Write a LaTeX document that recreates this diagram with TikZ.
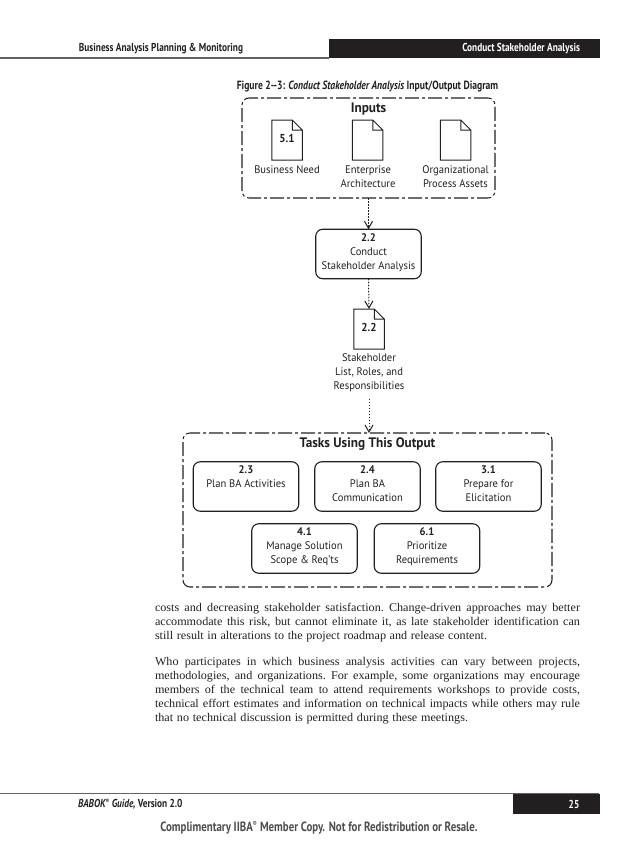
\documentclass[tikz,border=0pt]{standalone}
\usepackage{fontspec}
\usetikzlibrary{arrows.meta,calc}
\setmainfont[FakeStretch=0.96]{PT Sans}
\newfontfamily\hdr[FakeStretch=0.81]{PT Sans}
\newfontfamily\bodyf[FakeStretch=1.03]{Liberation Serif}
\definecolor{ink}{HTML}{231F20}
\newcommand{\fs}[2]{\fontsize{#1}{#2}\selectfont}
\newcommand{\docfold}[1]{\draw[docline] (#1.north west) -- ([xshift=-10pt]#1.north east) -- ([yshift=-10pt]#1.north east) -- (#1.south east) -- (#1.south west) -- cycle
  ([xshift=-10pt]#1.north east) -- ([xshift=-10pt,yshift=-10pt]#1.north east) -- ([yshift=-10pt]#1.north east);}
\tikzset{
  x=1pt,y=-1pt,
  every node/.style={text=ink,inner sep=0pt,outer sep=0pt},
  docline/.style={draw=ink,line width=1pt,line join=miter},
  groupbox/.style={draw=ink,line width=1.05pt,rounded corners=7pt,dash pattern=on 14pt off 3pt on 3pt off 3pt},
  taskbox/.style={draw=ink,line width=1.1pt,rounded corners=7pt,minimum width=105.5pt,minimum height=49.5pt},
  docnode/.style={minimum width=30.5pt,minimum height=40pt},
  lab/.style={align=center,font=\fs{11}{14}},
  grouptitle/.style={font=\fs{13.8}{14}\bfseries},
  flow/.style={draw=ink,line width=1pt,dash pattern=on 1.5pt off 1.5pt,-{Straight Barb[length=7pt,width=8pt,line width=1pt]}},
  bodyline/.style={anchor=west,font=\fs{11.8}{14}\bodyf\frenchspacing},
  headtext/.style={font=\fs{11.5}{14}\hdr\bfseries}
}
\newcommand{\jl}[2]{\makebox[#1pt][s]{#2}}
\begin{document}
\begin{tikzpicture}
\useasboundingbox (0,0) rectangle (638,851);
% header
\draw[line width=1.3pt,draw=ink!70] (0,58) -- (329,58);
\node[fill=ink,minimum width=270.5pt,minimum height=19pt] (headbar) at (464.5,48.5) {};
\node[headtext,anchor=east] (headleft) at (243,49) {Business Analysis Planning \& Monitoring};
\node[headtext,anchor=east,text=white] (headright) at (580,49) {Conduct Stakeholder Analysis};
% caption
\node[font=\fs{11.9}{14}\hdr\bfseries] (caption) at (367.5,87) {Figure 2--3: \textit{Conduct Stakeholder Analysis} Input/Output Diagram};
% inputs
\node[groupbox,minimum width=253pt,minimum height=100pt] (inputs) at (368.5,148) {};
\node[grouptitle] (inputstitle) at (368.5,109.5) {Inputs};
\node[docnode,font=\fs{11.5}{14}\bfseries] (d51) at (287,140) {\raisebox{4pt}{5.1}};
\node[docnode] (dea) at (367.5,140) {};
\node[docnode] (dopa) at (455.5,140) {};
\docfold{d51}\docfold{dea}\docfold{dopa}
\node[lab] (lbn) at (287,170) {Business Need};
\node[lab] (lea) at (368,177) {Enterprise\\Architecture};
\node[lab] (lopa) at (455.5,177) {Organizational\\Process Assets};
% task 2.2
\node[taskbox] (t22) at (368.5,254) {};
\node[lab] (t22t) at (368.5,253) {\textbf{2.2}\\Conduct\\Stakeholder Analysis};
\node[docnode,font=\fs{11.5}{14}\bfseries] (d22) at (369,329) {\raisebox{4pt}{2.2}};
\docfold{d22}
\node[lab] (l22) at (369,372.5) {Stakeholder\\List, Roles, and\\Responsibilities};
\draw[flow] (inputs.south) -- (t22.north);
\draw[flow] (t22.south) -- (d22.north);
% tasks
\node[groupbox,minimum width=369pt,minimum height=154pt] (tasks) at (367.5,510) {};
\node[grouptitle] (taskstitle) at (367.5,444) {Tasks Using This Output};
\draw[flow] ([yshift=-7pt]l22.south) -- (tasks.north -| l22.south);
\newcommand{\tasknode}[5]{%
  \node[taskbox] (#1) at (#2,#3) {};
  \node[lab,anchor=north] (#1t) at ([yshift=-3.5pt]#1.north) {#4\\#5};}
\tasknode{t23}{246}{486.5}{\textbf{2.3}}{Plan BA Activities}
\tasknode{t24}{367.5}{486.5}{\textbf{2.4}}{Plan BA\\Communication}
\tasknode{t31}{488.5}{486.5}{\textbf{3.1}}{Prepare for\\Elicitation}
\tasknode{t41}{304.5}{548.5}{\textbf{4.1}}{Manage Solution\\Scope \& Req'ts}
\tasknode{t61}{427}{548.5}{\textbf{6.1}}{Prioritize\\Requirements}
% body
\node[bodyline] (b1) at (155,608.5) {\jl{425}{costs and decreasing stakeholder satisfaction. Change-driven approaches may better}};
\node[bodyline] (b2) at (155,622.5) {\jl{425}{accommodate this risk, but cannot eliminate it, as late stakeholder identification can}};
\node[bodyline] (b3) at (155,636.5) {\jl{332}{still result in alterations to the project roadmap and release content.}};
\node[bodyline] (b4) at (155,662.5) {\jl{425}{Who participates in which business analysis activities can vary between projects,}};
\node[bodyline] (b5) at (155,676.5) {\jl{425}{methodologies, and organizations. For example, some organizations may encourage}};
\node[bodyline] (b6) at (155,690.5) {\jl{425}{members of the technical team to attend requirements workshops to provide costs,}};
\node[bodyline] (b7) at (155,704.5) {\jl{425}{technical effort estimates and information on technical impacts while others may rule}};
\node[bodyline] (b8) at (155,718.5) {\jl{313}{that no technical discussion is permitted during these meetings.}};
% footer
\draw[line width=1.3pt,draw=ink!70] (0,793.5) -- (599,793.5);
\node[fill=ink,minimum width=87pt,minimum height=20pt] (footbar) at (556,803.5) {};
\node[headtext,anchor=west] (footleft) at (78,804) {\textit{BABOK\textsuperscript{\fs{6}{6}®} Guide,} Version 2.0};
\node[headtext,text=white] (pageno) at (574,804) {25};
\node[font=\fs{13.4}{14}\hdr\bfseries,text=ink!80] (copy) at (319,828) {Complimentary IIBA\textsuperscript{\fs{7}{7}®} Member Copy. Not for Redistribution or Resale.};
\end{tikzpicture}
\end{document}
